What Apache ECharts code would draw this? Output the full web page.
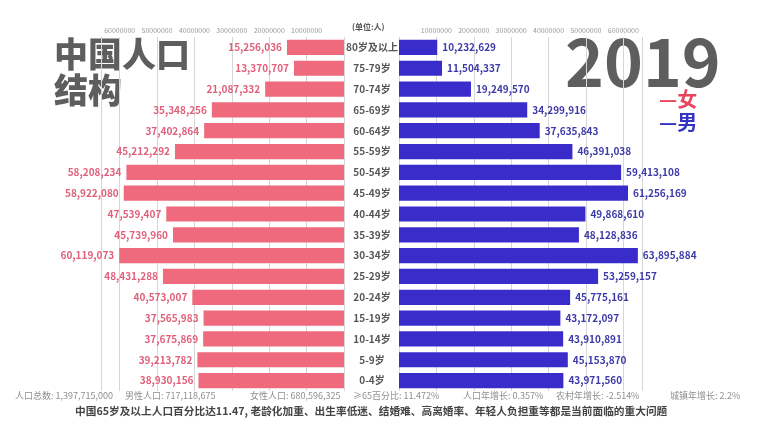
<!DOCTYPE html>
<html>
<head>
<meta charset="utf-8">
<script src="https://cdn.jsdelivr.net/npm/echarts@6/dist/echarts.min.js"></script>
<style>
  html, body { margin: 0; padding: 0; background: #fff; }
  #chart { width: 773px; height: 430px; }
</style>
</head>
<body>
<div id="chart"></div>
<script>
// 年龄段（自上而下）
const ageGroups = ['80岁及以上', '75-79岁', '70-74岁', '65-69岁', '60-64岁', '55-59岁', '50-54岁', '45-49岁',
  '40-44岁', '35-39岁', '30-34岁', '25-29岁', '20-24岁', '15-19岁', '10-14岁', '5-9岁', '0-4岁'];

// 女性人口（左侧）
const female = [15256036, 13370707, 21087332, 35348256, 37402864, 45212292, 58208234, 58922080,
  47539407, 45739960, 60119073, 48431288, 40573007, 37565983, 37675869, 39213782, 38930156];

// 男性人口（右侧）
const male = [10232629, 11504337, 19249570, 34299916, 37635843, 46391038, 59413108, 61256169,
  49868610, 48128836, 63895884, 53259157, 45775161, 43172097, 43910891, 45153870, 43971560];

// 底部统计
const stats = [
  ['人口总数: 1,397,715,000', 15],
  ['男性人口: 717,118,675', 125],
  ['女性人口: 680,596,325', 250],
  ['≥65百分比: 11.472%', 353],
  ['人口年增长: 0.357%', 463],
  ['农村年增长: -2.514%', 556],
  ['城镇年增长: 2.2%', 670]
];

const FONT = "'Noto Sans CJK SC', sans-serif";
const PINK = '#ee6a7c';
const BLUE = '#3a2ccb';

const chart = echarts.init(document.getElementById('chart'));

const fmt = (v) => Number(v).toLocaleString('en-US');

const valueAxisCommon = {
  type: 'value',
  position: 'top',
  min: 0,
  max: 65000000,
  interval: 10000000,
  axisLine: { show: false },
  axisTick: { show: false },
  axisLabel: {
    color: '#999',
    fontSize: 7,
    fontFamily: FONT,
    margin: 3,
    showMinLabel: false,
    showMaxLabel: false,
    formatter: (v) => String(v)
  },
  splitLine: { show: true, lineStyle: { color: '#d6d6d6', width: 1 } }
};

const option = {
  backgroundColor: '#fff',
  animation: false,
  grid: [
    { left: 101, width: 243, top: 37, height: 354 },
    { left: 399, width: 243, top: 37, height: 354 }
  ],
  xAxis: [
    Object.assign({ gridIndex: 0, inverse: true }, valueAxisCommon),
    Object.assign({ gridIndex: 1 }, valueAxisCommon)
  ],
  yAxis: [
    {
      gridIndex: 0,
      type: 'category',
      data: ageGroups,
      inverse: true,
      position: 'right',
      axisLine: { show: false },
      axisTick: { show: false },
      axisLabel: { show: false }
    },
    {
      gridIndex: 1,
      type: 'category',
      data: ageGroups,
      inverse: true,
      position: 'left',
      axisLine: { show: false },
      axisTick: { show: false },
      axisLabel: {
        color: '#555',
        fontSize: 10,
        fontWeight: 'bold',
        fontFamily: FONT,
        align: 'center',
        margin: 27
      }
    }
  ],
  series: [
    {
      name: '女',
      type: 'bar',
      xAxisIndex: 0,
      yAxisIndex: 0,
      data: female,
      barCategoryGap: '27%',
      itemStyle: { color: PINK },
      label: {
        show: true,
        position: 'left',
        distance: 5,
        formatter: (p) => fmt(p.value),
        color: '#e0607a',
        fontSize: 10,
        fontWeight: 'bold',
        fontFamily: FONT
      }
    },
    {
      name: '男',
      type: 'bar',
      xAxisIndex: 1,
      yAxisIndex: 1,
      data: male,
      barCategoryGap: '27%',
      itemStyle: { color: BLUE },
      label: {
        show: true,
        position: 'right',
        distance: 5,
        formatter: (p) => fmt(p.value),
        color: '#3d3aa8',
        fontSize: 10,
        fontWeight: 'bold',
        fontFamily: FONT
      }
    }
  ],
  graphic: [
    {
      type: 'text', left: 54, top: 36,
      style: { text: '中国人口\n结构', fill: '#5e5e5e', font: "900 34px 'Noto Sans CJK SC'", lineHeight: 36 }
    },
    {
      type: 'text', left: 565, top: 29,
      style: { text: '2019', fill: '#5e5e5e', font: "bold 66px 'Noto Sans CJK SC'" }
    },
    {
      type: 'text', left: 659, top: 89,
      style: { text: '—女', fill: '#e8465c', font: "bold 20px 'Noto Sans CJK SC'" }
    },
    {
      type: 'text', left: 659, top: 112,
      style: { text: '—男', fill: '#3434c0', font: "bold 20px 'Noto Sans CJK SC'" }
    },
    {
      type: 'text', left: 352, top: 23,
      style: { text: '(单位:人)', fill: '#555', font: "bold 8px 'Noto Sans CJK SC'" }
    },
    ...stats.map(([t, x]) => ({
      type: 'text', left: x, top: 391,
      style: { text: t, fill: '#8f8f8f', font: "9px 'Noto Sans CJK SC'" }
    })),
    {
      type: 'text', left: 75, top: 406,
      style: {
        text: '中国65岁及以上人口百分比达11.47, 老龄化加重、出生率低迷、结婚难、高离婚率、年轻人负担重等都是当前面临的重大问题',
        fill: '#444', font: "bold 10.7px 'Noto Sans CJK SC'"
      }
    }
  ]
};

chart.setOption(option);
</script>
</body>
</html>
